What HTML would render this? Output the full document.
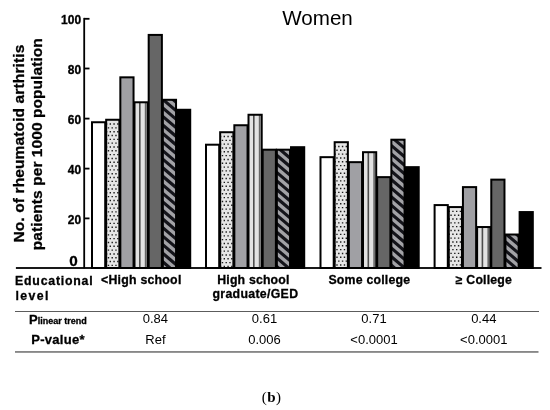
<!DOCTYPE html>
<html><head><meta charset="utf-8"><title>Women</title>
<style>html,body{margin:0;padding:0;background:#fff}body{width:550px;height:410px;position:relative;overflow:hidden}</style>
</head><body>
<svg width="550" height="410" viewBox="0 0 550 410" style="position:absolute;left:0;top:0">
<rect x="92.00" y="122.24" width="13.20" height="145.76" fill="#fff"/>
<rect x="92.00" y="122.24" width="13.20" height="145.76" fill="none" stroke="#000" stroke-width="2.0"/>
<rect x="106.17" y="119.75" width="13.20" height="148.25" fill="#e6e6e6"/>
<clipPath id="c1"><rect x="106.17" y="119.75" width="13.20" height="148.25"/></clipPath>
<path clip-path="url(#c1)" fill="#1c1c1c" d="M105.87 123.35h1.4v1.4h-1.4zM109.62 123.35h1.4v1.4h-1.4zM113.37 123.35h1.4v1.4h-1.4zM117.12 123.35h1.4v1.4h-1.4zM107.77 127.17h1.4v1.4h-1.4zM111.52 127.17h1.4v1.4h-1.4zM115.27 127.17h1.4v1.4h-1.4zM105.87 130.99h1.4v1.4h-1.4zM109.62 130.99h1.4v1.4h-1.4zM113.37 130.99h1.4v1.4h-1.4zM117.12 130.99h1.4v1.4h-1.4zM107.77 134.81h1.4v1.4h-1.4zM111.52 134.81h1.4v1.4h-1.4zM115.27 134.81h1.4v1.4h-1.4zM105.87 138.63h1.4v1.4h-1.4zM109.62 138.63h1.4v1.4h-1.4zM113.37 138.63h1.4v1.4h-1.4zM117.12 138.63h1.4v1.4h-1.4zM107.77 142.45h1.4v1.4h-1.4zM111.52 142.45h1.4v1.4h-1.4zM115.27 142.45h1.4v1.4h-1.4zM105.87 146.27h1.4v1.4h-1.4zM109.62 146.27h1.4v1.4h-1.4zM113.37 146.27h1.4v1.4h-1.4zM117.12 146.27h1.4v1.4h-1.4zM107.77 150.09h1.4v1.4h-1.4zM111.52 150.09h1.4v1.4h-1.4zM115.27 150.09h1.4v1.4h-1.4zM105.87 153.91h1.4v1.4h-1.4zM109.62 153.91h1.4v1.4h-1.4zM113.37 153.91h1.4v1.4h-1.4zM117.12 153.91h1.4v1.4h-1.4zM107.77 157.73h1.4v1.4h-1.4zM111.52 157.73h1.4v1.4h-1.4zM115.27 157.73h1.4v1.4h-1.4zM105.87 161.55h1.4v1.4h-1.4zM109.62 161.55h1.4v1.4h-1.4zM113.37 161.55h1.4v1.4h-1.4zM117.12 161.55h1.4v1.4h-1.4zM107.77 165.37h1.4v1.4h-1.4zM111.52 165.37h1.4v1.4h-1.4zM115.27 165.37h1.4v1.4h-1.4zM105.87 169.19h1.4v1.4h-1.4zM109.62 169.19h1.4v1.4h-1.4zM113.37 169.19h1.4v1.4h-1.4zM117.12 169.19h1.4v1.4h-1.4zM107.77 173.01h1.4v1.4h-1.4zM111.52 173.01h1.4v1.4h-1.4zM115.27 173.01h1.4v1.4h-1.4zM105.87 176.83h1.4v1.4h-1.4zM109.62 176.83h1.4v1.4h-1.4zM113.37 176.83h1.4v1.4h-1.4zM117.12 176.83h1.4v1.4h-1.4zM107.77 180.65h1.4v1.4h-1.4zM111.52 180.65h1.4v1.4h-1.4zM115.27 180.65h1.4v1.4h-1.4zM105.87 184.47h1.4v1.4h-1.4zM109.62 184.47h1.4v1.4h-1.4zM113.37 184.47h1.4v1.4h-1.4zM117.12 184.47h1.4v1.4h-1.4zM107.77 188.29h1.4v1.4h-1.4zM111.52 188.29h1.4v1.4h-1.4zM115.27 188.29h1.4v1.4h-1.4zM105.87 192.11h1.4v1.4h-1.4zM109.62 192.11h1.4v1.4h-1.4zM113.37 192.11h1.4v1.4h-1.4zM117.12 192.11h1.4v1.4h-1.4zM107.77 195.93h1.4v1.4h-1.4zM111.52 195.93h1.4v1.4h-1.4zM115.27 195.93h1.4v1.4h-1.4zM105.87 199.75h1.4v1.4h-1.4zM109.62 199.75h1.4v1.4h-1.4zM113.37 199.75h1.4v1.4h-1.4zM117.12 199.75h1.4v1.4h-1.4zM107.77 203.57h1.4v1.4h-1.4zM111.52 203.57h1.4v1.4h-1.4zM115.27 203.57h1.4v1.4h-1.4zM105.87 207.39h1.4v1.4h-1.4zM109.62 207.39h1.4v1.4h-1.4zM113.37 207.39h1.4v1.4h-1.4zM117.12 207.39h1.4v1.4h-1.4zM107.77 211.21h1.4v1.4h-1.4zM111.52 211.21h1.4v1.4h-1.4zM115.27 211.21h1.4v1.4h-1.4zM105.87 215.03h1.4v1.4h-1.4zM109.62 215.03h1.4v1.4h-1.4zM113.37 215.03h1.4v1.4h-1.4zM117.12 215.03h1.4v1.4h-1.4zM107.77 218.85h1.4v1.4h-1.4zM111.52 218.85h1.4v1.4h-1.4zM115.27 218.85h1.4v1.4h-1.4zM105.87 222.67h1.4v1.4h-1.4zM109.62 222.67h1.4v1.4h-1.4zM113.37 222.67h1.4v1.4h-1.4zM117.12 222.67h1.4v1.4h-1.4zM107.77 226.49h1.4v1.4h-1.4zM111.52 226.49h1.4v1.4h-1.4zM115.27 226.49h1.4v1.4h-1.4zM105.87 230.31h1.4v1.4h-1.4zM109.62 230.31h1.4v1.4h-1.4zM113.37 230.31h1.4v1.4h-1.4zM117.12 230.31h1.4v1.4h-1.4zM107.77 234.13h1.4v1.4h-1.4zM111.52 234.13h1.4v1.4h-1.4zM115.27 234.13h1.4v1.4h-1.4zM105.87 237.95h1.4v1.4h-1.4zM109.62 237.95h1.4v1.4h-1.4zM113.37 237.95h1.4v1.4h-1.4zM117.12 237.95h1.4v1.4h-1.4zM107.77 241.77h1.4v1.4h-1.4zM111.52 241.77h1.4v1.4h-1.4zM115.27 241.77h1.4v1.4h-1.4zM105.87 245.59h1.4v1.4h-1.4zM109.62 245.59h1.4v1.4h-1.4zM113.37 245.59h1.4v1.4h-1.4zM117.12 245.59h1.4v1.4h-1.4zM107.77 249.41h1.4v1.4h-1.4zM111.52 249.41h1.4v1.4h-1.4zM115.27 249.41h1.4v1.4h-1.4zM105.87 253.23h1.4v1.4h-1.4zM109.62 253.23h1.4v1.4h-1.4zM113.37 253.23h1.4v1.4h-1.4zM117.12 253.23h1.4v1.4h-1.4zM107.77 257.05h1.4v1.4h-1.4zM111.52 257.05h1.4v1.4h-1.4zM115.27 257.05h1.4v1.4h-1.4zM105.87 260.87h1.4v1.4h-1.4zM109.62 260.87h1.4v1.4h-1.4zM113.37 260.87h1.4v1.4h-1.4zM117.12 260.87h1.4v1.4h-1.4zM107.77 264.69h1.4v1.4h-1.4zM111.52 264.69h1.4v1.4h-1.4zM115.27 264.69h1.4v1.4h-1.4z"/>
<rect x="106.17" y="119.75" width="13.20" height="148.25" fill="none" stroke="#000" stroke-width="2.0"/>
<rect x="120.34" y="77.33" width="13.20" height="190.67" fill="#a0a0a4"/>
<rect x="120.34" y="77.33" width="13.20" height="190.67" fill="none" stroke="#000" stroke-width="2.0"/>
<rect x="134.51" y="102.28" width="13.20" height="165.72" fill="#e2e2e2"/>
<rect  x="139.01" y="102.28" width="1.6" height="165.72" fill="#4c4c4c"/>
<rect  x="144.81" y="102.28" width="1.6" height="165.72" fill="#666"/>
<rect x="134.51" y="102.28" width="13.20" height="165.72" fill="none" stroke="#000" stroke-width="2.0"/>
<rect x="148.68" y="34.92" width="13.20" height="233.08" fill="#666"/>
<rect x="148.68" y="34.92" width="13.20" height="233.08" fill="none" stroke="#000" stroke-width="2.0"/>
<rect x="162.85" y="99.79" width="13.20" height="168.21" fill="#a2a2a6"/>
<clipPath id="c2"><rect x="162.85" y="99.79" width="13.20" height="168.21"/></clipPath>
<path clip-path="url(#c2)" fill="#14141a" d="M158.85 76.89L183.85 98.14v4.1L158.85 80.99zM158.85 85.44L183.85 106.69v4.1L158.85 89.54zM158.85 93.99L183.85 115.24v4.1L158.85 98.09zM158.85 102.54L183.85 123.79v4.1L158.85 106.64zM158.85 111.09L183.85 132.34v4.1L158.85 115.19zM158.85 119.64L183.85 140.89v4.1L158.85 123.74zM158.85 128.19L183.85 149.44v4.1L158.85 132.29zM158.85 136.74L183.85 157.99v4.1L158.85 140.84zM158.85 145.29L183.85 166.54v4.1L158.85 149.39zM158.85 153.84L183.85 175.09v4.1L158.85 157.94zM158.85 162.39L183.85 183.64v4.1L158.85 166.49zM158.85 170.94L183.85 192.19v4.1L158.85 175.04zM158.85 179.49L183.85 200.74v4.1L158.85 183.59zM158.85 188.04L183.85 209.29v4.1L158.85 192.14zM158.85 196.59L183.85 217.84v4.1L158.85 200.69zM158.85 205.14L183.85 226.39v4.1L158.85 209.24zM158.85 213.69L183.85 234.94v4.1L158.85 217.79zM158.85 222.24L183.85 243.49v4.1L158.85 226.34zM158.85 230.79L183.85 252.04v4.1L158.85 234.89zM158.85 239.34L183.85 260.59v4.1L158.85 243.44zM158.85 247.89L183.85 269.14v4.1L158.85 251.99zM158.85 256.44L183.85 277.69v4.1L158.85 260.54zM158.85 264.99L183.85 286.24v4.1L158.85 269.09z"/>
<rect x="162.85" y="99.79" width="13.20" height="168.21" fill="none" stroke="#000" stroke-width="2.0"/>
<rect x="177.02" y="109.77" width="13.20" height="158.23" fill="#000"/>
<rect x="177.02" y="109.77" width="13.20" height="158.23" fill="none" stroke="#000" stroke-width="2.0"/>
<rect x="206.00" y="144.70" width="13.20" height="123.30" fill="#fff"/>
<rect x="206.00" y="144.70" width="13.20" height="123.30" fill="none" stroke="#000" stroke-width="2.0"/>
<rect x="220.17" y="132.22" width="13.20" height="135.78" fill="#e6e6e6"/>
<clipPath id="c3"><rect x="220.17" y="132.22" width="13.20" height="135.78"/></clipPath>
<path clip-path="url(#c3)" fill="#1c1c1c" d="M219.87 135.83h1.4v1.4h-1.4zM223.62 135.83h1.4v1.4h-1.4zM227.37 135.83h1.4v1.4h-1.4zM231.12 135.83h1.4v1.4h-1.4zM221.77 139.65h1.4v1.4h-1.4zM225.52 139.65h1.4v1.4h-1.4zM229.27 139.65h1.4v1.4h-1.4zM219.87 143.47h1.4v1.4h-1.4zM223.62 143.47h1.4v1.4h-1.4zM227.37 143.47h1.4v1.4h-1.4zM231.12 143.47h1.4v1.4h-1.4zM221.77 147.29h1.4v1.4h-1.4zM225.52 147.29h1.4v1.4h-1.4zM229.27 147.29h1.4v1.4h-1.4zM219.87 151.11h1.4v1.4h-1.4zM223.62 151.11h1.4v1.4h-1.4zM227.37 151.11h1.4v1.4h-1.4zM231.12 151.11h1.4v1.4h-1.4zM221.77 154.93h1.4v1.4h-1.4zM225.52 154.93h1.4v1.4h-1.4zM229.27 154.93h1.4v1.4h-1.4zM219.87 158.75h1.4v1.4h-1.4zM223.62 158.75h1.4v1.4h-1.4zM227.37 158.75h1.4v1.4h-1.4zM231.12 158.75h1.4v1.4h-1.4zM221.77 162.57h1.4v1.4h-1.4zM225.52 162.57h1.4v1.4h-1.4zM229.27 162.57h1.4v1.4h-1.4zM219.87 166.39h1.4v1.4h-1.4zM223.62 166.39h1.4v1.4h-1.4zM227.37 166.39h1.4v1.4h-1.4zM231.12 166.39h1.4v1.4h-1.4zM221.77 170.21h1.4v1.4h-1.4zM225.52 170.21h1.4v1.4h-1.4zM229.27 170.21h1.4v1.4h-1.4zM219.87 174.03h1.4v1.4h-1.4zM223.62 174.03h1.4v1.4h-1.4zM227.37 174.03h1.4v1.4h-1.4zM231.12 174.03h1.4v1.4h-1.4zM221.77 177.85h1.4v1.4h-1.4zM225.52 177.85h1.4v1.4h-1.4zM229.27 177.85h1.4v1.4h-1.4zM219.87 181.67h1.4v1.4h-1.4zM223.62 181.67h1.4v1.4h-1.4zM227.37 181.67h1.4v1.4h-1.4zM231.12 181.67h1.4v1.4h-1.4zM221.77 185.49h1.4v1.4h-1.4zM225.52 185.49h1.4v1.4h-1.4zM229.27 185.49h1.4v1.4h-1.4zM219.87 189.31h1.4v1.4h-1.4zM223.62 189.31h1.4v1.4h-1.4zM227.37 189.31h1.4v1.4h-1.4zM231.12 189.31h1.4v1.4h-1.4zM221.77 193.12h1.4v1.4h-1.4zM225.52 193.12h1.4v1.4h-1.4zM229.27 193.12h1.4v1.4h-1.4zM219.87 196.95h1.4v1.4h-1.4zM223.62 196.95h1.4v1.4h-1.4zM227.37 196.95h1.4v1.4h-1.4zM231.12 196.95h1.4v1.4h-1.4zM221.77 200.77h1.4v1.4h-1.4zM225.52 200.77h1.4v1.4h-1.4zM229.27 200.77h1.4v1.4h-1.4zM219.87 204.59h1.4v1.4h-1.4zM223.62 204.59h1.4v1.4h-1.4zM227.37 204.59h1.4v1.4h-1.4zM231.12 204.59h1.4v1.4h-1.4zM221.77 208.41h1.4v1.4h-1.4zM225.52 208.41h1.4v1.4h-1.4zM229.27 208.41h1.4v1.4h-1.4zM219.87 212.23h1.4v1.4h-1.4zM223.62 212.23h1.4v1.4h-1.4zM227.37 212.23h1.4v1.4h-1.4zM231.12 212.23h1.4v1.4h-1.4zM221.77 216.05h1.4v1.4h-1.4zM225.52 216.05h1.4v1.4h-1.4zM229.27 216.05h1.4v1.4h-1.4zM219.87 219.87h1.4v1.4h-1.4zM223.62 219.87h1.4v1.4h-1.4zM227.37 219.87h1.4v1.4h-1.4zM231.12 219.87h1.4v1.4h-1.4zM221.77 223.69h1.4v1.4h-1.4zM225.52 223.69h1.4v1.4h-1.4zM229.27 223.69h1.4v1.4h-1.4zM219.87 227.50h1.4v1.4h-1.4zM223.62 227.50h1.4v1.4h-1.4zM227.37 227.50h1.4v1.4h-1.4zM231.12 227.50h1.4v1.4h-1.4zM221.77 231.33h1.4v1.4h-1.4zM225.52 231.33h1.4v1.4h-1.4zM229.27 231.33h1.4v1.4h-1.4zM219.87 235.15h1.4v1.4h-1.4zM223.62 235.15h1.4v1.4h-1.4zM227.37 235.15h1.4v1.4h-1.4zM231.12 235.15h1.4v1.4h-1.4zM221.77 238.97h1.4v1.4h-1.4zM225.52 238.97h1.4v1.4h-1.4zM229.27 238.97h1.4v1.4h-1.4zM219.87 242.79h1.4v1.4h-1.4zM223.62 242.79h1.4v1.4h-1.4zM227.37 242.79h1.4v1.4h-1.4zM231.12 242.79h1.4v1.4h-1.4zM221.77 246.61h1.4v1.4h-1.4zM225.52 246.61h1.4v1.4h-1.4zM229.27 246.61h1.4v1.4h-1.4zM219.87 250.43h1.4v1.4h-1.4zM223.62 250.43h1.4v1.4h-1.4zM227.37 250.43h1.4v1.4h-1.4zM231.12 250.43h1.4v1.4h-1.4zM221.77 254.25h1.4v1.4h-1.4zM225.52 254.25h1.4v1.4h-1.4zM229.27 254.25h1.4v1.4h-1.4zM219.87 258.06h1.4v1.4h-1.4zM223.62 258.06h1.4v1.4h-1.4zM227.37 258.06h1.4v1.4h-1.4zM231.12 258.06h1.4v1.4h-1.4zM221.77 261.88h1.4v1.4h-1.4zM225.52 261.88h1.4v1.4h-1.4zM229.27 261.88h1.4v1.4h-1.4zM219.87 265.70h1.4v1.4h-1.4zM223.62 265.70h1.4v1.4h-1.4zM227.37 265.70h1.4v1.4h-1.4zM231.12 265.70h1.4v1.4h-1.4z"/>
<rect x="220.17" y="132.22" width="13.20" height="135.78" fill="none" stroke="#000" stroke-width="2.0"/>
<rect x="234.34" y="125.24" width="13.20" height="142.76" fill="#a0a0a4"/>
<rect x="234.34" y="125.24" width="13.20" height="142.76" fill="none" stroke="#000" stroke-width="2.0"/>
<rect x="248.51" y="114.76" width="13.20" height="153.24" fill="#e2e2e2"/>
<rect  x="253.01" y="114.76" width="1.6" height="153.24" fill="#4c4c4c"/>
<rect  x="258.81" y="114.76" width="1.6" height="153.24" fill="#666"/>
<rect x="248.51" y="114.76" width="13.20" height="153.24" fill="none" stroke="#000" stroke-width="2.0"/>
<rect x="262.68" y="149.69" width="13.20" height="118.31" fill="#666"/>
<rect x="262.68" y="149.69" width="13.20" height="118.31" fill="none" stroke="#000" stroke-width="2.0"/>
<rect x="276.85" y="149.69" width="13.20" height="118.31" fill="#a2a2a6"/>
<clipPath id="c4"><rect x="276.85" y="149.69" width="13.20" height="118.31"/></clipPath>
<path clip-path="url(#c4)" fill="#14141a" d="M272.85 124.29L297.85 145.54v4.1L272.85 128.39zM272.85 132.84L297.85 154.09v4.1L272.85 136.94zM272.85 141.39L297.85 162.64v4.1L272.85 145.49zM272.85 149.94L297.85 171.19v4.1L272.85 154.04zM272.85 158.49L297.85 179.74v4.1L272.85 162.59zM272.85 167.04L297.85 188.29v4.1L272.85 171.14zM272.85 175.59L297.85 196.84v4.1L272.85 179.69zM272.85 184.14L297.85 205.39v4.1L272.85 188.24zM272.85 192.69L297.85 213.94v4.1L272.85 196.79zM272.85 201.24L297.85 222.49v4.1L272.85 205.34zM272.85 209.79L297.85 231.04v4.1L272.85 213.89zM272.85 218.34L297.85 239.59v4.1L272.85 222.44zM272.85 226.89L297.85 248.14v4.1L272.85 230.99zM272.85 235.44L297.85 256.69v4.1L272.85 239.54zM272.85 243.99L297.85 265.24v4.1L272.85 248.09zM272.85 252.54L297.85 273.79v4.1L272.85 256.64zM272.85 261.09L297.85 282.34v4.1L272.85 265.19z"/>
<rect x="276.85" y="149.69" width="13.20" height="118.31" fill="none" stroke="#000" stroke-width="2.0"/>
<rect x="291.02" y="147.19" width="13.20" height="120.81" fill="#000"/>
<rect x="291.02" y="147.19" width="13.20" height="120.81" fill="none" stroke="#000" stroke-width="2.0"/>
<rect x="320.50" y="157.17" width="13.20" height="110.83" fill="#fff"/>
<rect x="320.50" y="157.17" width="13.20" height="110.83" fill="none" stroke="#000" stroke-width="2.0"/>
<rect x="334.67" y="142.20" width="13.20" height="125.80" fill="#e6e6e6"/>
<clipPath id="c5"><rect x="334.67" y="142.20" width="13.20" height="125.80"/></clipPath>
<path clip-path="url(#c5)" fill="#1c1c1c" d="M334.37 145.81h1.4v1.4h-1.4zM338.12 145.81h1.4v1.4h-1.4zM341.87 145.81h1.4v1.4h-1.4zM345.62 145.81h1.4v1.4h-1.4zM336.27 149.62h1.4v1.4h-1.4zM340.02 149.62h1.4v1.4h-1.4zM343.77 149.62h1.4v1.4h-1.4zM334.37 153.44h1.4v1.4h-1.4zM338.12 153.44h1.4v1.4h-1.4zM341.87 153.44h1.4v1.4h-1.4zM345.62 153.44h1.4v1.4h-1.4zM336.27 157.27h1.4v1.4h-1.4zM340.02 157.27h1.4v1.4h-1.4zM343.77 157.27h1.4v1.4h-1.4zM334.37 161.09h1.4v1.4h-1.4zM338.12 161.09h1.4v1.4h-1.4zM341.87 161.09h1.4v1.4h-1.4zM345.62 161.09h1.4v1.4h-1.4zM336.27 164.91h1.4v1.4h-1.4zM340.02 164.91h1.4v1.4h-1.4zM343.77 164.91h1.4v1.4h-1.4zM334.37 168.72h1.4v1.4h-1.4zM338.12 168.72h1.4v1.4h-1.4zM341.87 168.72h1.4v1.4h-1.4zM345.62 168.72h1.4v1.4h-1.4zM336.27 172.55h1.4v1.4h-1.4zM340.02 172.55h1.4v1.4h-1.4zM343.77 172.55h1.4v1.4h-1.4zM334.37 176.37h1.4v1.4h-1.4zM338.12 176.37h1.4v1.4h-1.4zM341.87 176.37h1.4v1.4h-1.4zM345.62 176.37h1.4v1.4h-1.4zM336.27 180.19h1.4v1.4h-1.4zM340.02 180.19h1.4v1.4h-1.4zM343.77 180.19h1.4v1.4h-1.4zM334.37 184.00h1.4v1.4h-1.4zM338.12 184.00h1.4v1.4h-1.4zM341.87 184.00h1.4v1.4h-1.4zM345.62 184.00h1.4v1.4h-1.4zM336.27 187.82h1.4v1.4h-1.4zM340.02 187.82h1.4v1.4h-1.4zM343.77 187.82h1.4v1.4h-1.4zM334.37 191.65h1.4v1.4h-1.4zM338.12 191.65h1.4v1.4h-1.4zM341.87 191.65h1.4v1.4h-1.4zM345.62 191.65h1.4v1.4h-1.4zM336.27 195.47h1.4v1.4h-1.4zM340.02 195.47h1.4v1.4h-1.4zM343.77 195.47h1.4v1.4h-1.4zM334.37 199.28h1.4v1.4h-1.4zM338.12 199.28h1.4v1.4h-1.4zM341.87 199.28h1.4v1.4h-1.4zM345.62 199.28h1.4v1.4h-1.4zM336.27 203.11h1.4v1.4h-1.4zM340.02 203.11h1.4v1.4h-1.4zM343.77 203.11h1.4v1.4h-1.4zM334.37 206.93h1.4v1.4h-1.4zM338.12 206.93h1.4v1.4h-1.4zM341.87 206.93h1.4v1.4h-1.4zM345.62 206.93h1.4v1.4h-1.4zM336.27 210.75h1.4v1.4h-1.4zM340.02 210.75h1.4v1.4h-1.4zM343.77 210.75h1.4v1.4h-1.4zM334.37 214.56h1.4v1.4h-1.4zM338.12 214.56h1.4v1.4h-1.4zM341.87 214.56h1.4v1.4h-1.4zM345.62 214.56h1.4v1.4h-1.4zM336.27 218.38h1.4v1.4h-1.4zM340.02 218.38h1.4v1.4h-1.4zM343.77 218.38h1.4v1.4h-1.4zM334.37 222.20h1.4v1.4h-1.4zM338.12 222.20h1.4v1.4h-1.4zM341.87 222.20h1.4v1.4h-1.4zM345.62 222.20h1.4v1.4h-1.4zM336.27 226.03h1.4v1.4h-1.4zM340.02 226.03h1.4v1.4h-1.4zM343.77 226.03h1.4v1.4h-1.4zM334.37 229.84h1.4v1.4h-1.4zM338.12 229.84h1.4v1.4h-1.4zM341.87 229.84h1.4v1.4h-1.4zM345.62 229.84h1.4v1.4h-1.4zM336.27 233.67h1.4v1.4h-1.4zM340.02 233.67h1.4v1.4h-1.4zM343.77 233.67h1.4v1.4h-1.4zM334.37 237.49h1.4v1.4h-1.4zM338.12 237.49h1.4v1.4h-1.4zM341.87 237.49h1.4v1.4h-1.4zM345.62 237.49h1.4v1.4h-1.4zM336.27 241.31h1.4v1.4h-1.4zM340.02 241.31h1.4v1.4h-1.4zM343.77 241.31h1.4v1.4h-1.4zM334.37 245.12h1.4v1.4h-1.4zM338.12 245.12h1.4v1.4h-1.4zM341.87 245.12h1.4v1.4h-1.4zM345.62 245.12h1.4v1.4h-1.4zM336.27 248.94h1.4v1.4h-1.4zM340.02 248.94h1.4v1.4h-1.4zM343.77 248.94h1.4v1.4h-1.4zM334.37 252.76h1.4v1.4h-1.4zM338.12 252.76h1.4v1.4h-1.4zM341.87 252.76h1.4v1.4h-1.4zM345.62 252.76h1.4v1.4h-1.4zM336.27 256.58h1.4v1.4h-1.4zM340.02 256.58h1.4v1.4h-1.4zM343.77 256.58h1.4v1.4h-1.4zM334.37 260.41h1.4v1.4h-1.4zM338.12 260.41h1.4v1.4h-1.4zM341.87 260.41h1.4v1.4h-1.4zM345.62 260.41h1.4v1.4h-1.4zM336.27 264.23h1.4v1.4h-1.4zM340.02 264.23h1.4v1.4h-1.4zM343.77 264.23h1.4v1.4h-1.4z"/>
<rect x="334.67" y="142.20" width="13.20" height="125.80" fill="none" stroke="#000" stroke-width="2.0"/>
<rect x="348.84" y="162.16" width="13.20" height="105.84" fill="#a0a0a4"/>
<rect x="348.84" y="162.16" width="13.20" height="105.84" fill="none" stroke="#000" stroke-width="2.0"/>
<rect x="363.01" y="152.19" width="13.20" height="115.81" fill="#e2e2e2"/>
<rect  x="367.51" y="152.19" width="1.6" height="115.81" fill="#4c4c4c"/>
<rect  x="373.31" y="152.19" width="1.6" height="115.81" fill="#666"/>
<rect x="363.01" y="152.19" width="13.20" height="115.81" fill="none" stroke="#000" stroke-width="2.0"/>
<rect x="377.18" y="177.13" width="13.20" height="90.87" fill="#666"/>
<rect x="377.18" y="177.13" width="13.20" height="90.87" fill="none" stroke="#000" stroke-width="2.0"/>
<rect x="391.35" y="139.71" width="13.20" height="128.29" fill="#a2a2a6"/>
<clipPath id="c6"><rect x="391.35" y="139.71" width="13.20" height="128.29"/></clipPath>
<path clip-path="url(#c6)" fill="#14141a" d="M387.35 114.41L412.35 135.66v4.1L387.35 118.51zM387.35 122.96L412.35 144.21v4.1L387.35 127.06zM387.35 131.51L412.35 152.76v4.1L387.35 135.61zM387.35 140.06L412.35 161.31v4.1L387.35 144.16zM387.35 148.61L412.35 169.86v4.1L387.35 152.71zM387.35 157.16L412.35 178.41v4.1L387.35 161.26zM387.35 165.71L412.35 186.96v4.1L387.35 169.81zM387.35 174.26L412.35 195.51v4.1L387.35 178.36zM387.35 182.81L412.35 204.06v4.1L387.35 186.91zM387.35 191.36L412.35 212.61v4.1L387.35 195.46zM387.35 199.91L412.35 221.16v4.1L387.35 204.01zM387.35 208.46L412.35 229.71v4.1L387.35 212.56zM387.35 217.01L412.35 238.26v4.1L387.35 221.11zM387.35 225.56L412.35 246.81v4.1L387.35 229.66zM387.35 234.11L412.35 255.36v4.1L387.35 238.21zM387.35 242.66L412.35 263.91v4.1L387.35 246.76zM387.35 251.21L412.35 272.46v4.1L387.35 255.31zM387.35 259.76L412.35 281.01v4.1L387.35 263.86z"/>
<rect x="391.35" y="139.71" width="13.20" height="128.29" fill="none" stroke="#000" stroke-width="2.0"/>
<rect x="405.52" y="167.15" width="13.20" height="100.85" fill="#000"/>
<rect x="405.52" y="167.15" width="13.20" height="100.85" fill="none" stroke="#000" stroke-width="2.0"/>
<rect x="434.60" y="205.08" width="13.20" height="62.92" fill="#fff"/>
<rect x="434.60" y="205.08" width="13.20" height="62.92" fill="none" stroke="#000" stroke-width="2.0"/>
<rect x="448.77" y="207.07" width="13.20" height="60.93" fill="#e6e6e6"/>
<clipPath id="c7"><rect x="448.77" y="207.07" width="13.20" height="60.93"/></clipPath>
<path clip-path="url(#c7)" fill="#1c1c1c" d="M448.47 210.68h1.4v1.4h-1.4zM452.22 210.68h1.4v1.4h-1.4zM455.97 210.68h1.4v1.4h-1.4zM459.72 210.68h1.4v1.4h-1.4zM450.37 214.50h1.4v1.4h-1.4zM454.12 214.50h1.4v1.4h-1.4zM457.87 214.50h1.4v1.4h-1.4zM448.47 218.31h1.4v1.4h-1.4zM452.22 218.31h1.4v1.4h-1.4zM455.97 218.31h1.4v1.4h-1.4zM459.72 218.31h1.4v1.4h-1.4zM450.37 222.14h1.4v1.4h-1.4zM454.12 222.14h1.4v1.4h-1.4zM457.87 222.14h1.4v1.4h-1.4zM448.47 225.96h1.4v1.4h-1.4zM452.22 225.96h1.4v1.4h-1.4zM455.97 225.96h1.4v1.4h-1.4zM459.72 225.96h1.4v1.4h-1.4zM450.37 229.78h1.4v1.4h-1.4zM454.12 229.78h1.4v1.4h-1.4zM457.87 229.78h1.4v1.4h-1.4zM448.47 233.59h1.4v1.4h-1.4zM452.22 233.59h1.4v1.4h-1.4zM455.97 233.59h1.4v1.4h-1.4zM459.72 233.59h1.4v1.4h-1.4zM450.37 237.42h1.4v1.4h-1.4zM454.12 237.42h1.4v1.4h-1.4zM457.87 237.42h1.4v1.4h-1.4zM448.47 241.24h1.4v1.4h-1.4zM452.22 241.24h1.4v1.4h-1.4zM455.97 241.24h1.4v1.4h-1.4zM459.72 241.24h1.4v1.4h-1.4zM450.37 245.06h1.4v1.4h-1.4zM454.12 245.06h1.4v1.4h-1.4zM457.87 245.06h1.4v1.4h-1.4zM448.47 248.88h1.4v1.4h-1.4zM452.22 248.88h1.4v1.4h-1.4zM455.97 248.88h1.4v1.4h-1.4zM459.72 248.88h1.4v1.4h-1.4zM450.37 252.69h1.4v1.4h-1.4zM454.12 252.69h1.4v1.4h-1.4zM457.87 252.69h1.4v1.4h-1.4zM448.47 256.51h1.4v1.4h-1.4zM452.22 256.51h1.4v1.4h-1.4zM455.97 256.51h1.4v1.4h-1.4zM459.72 256.51h1.4v1.4h-1.4zM450.37 260.33h1.4v1.4h-1.4zM454.12 260.33h1.4v1.4h-1.4zM457.87 260.33h1.4v1.4h-1.4zM448.47 264.16h1.4v1.4h-1.4zM452.22 264.16h1.4v1.4h-1.4zM455.97 264.16h1.4v1.4h-1.4zM459.72 264.16h1.4v1.4h-1.4z"/>
<rect x="448.77" y="207.07" width="13.20" height="60.93" fill="none" stroke="#000" stroke-width="2.0"/>
<rect x="462.94" y="187.11" width="13.20" height="80.89" fill="#a0a0a4"/>
<rect x="462.94" y="187.11" width="13.20" height="80.89" fill="none" stroke="#000" stroke-width="2.0"/>
<rect x="477.11" y="227.03" width="13.20" height="40.97" fill="#e2e2e2"/>
<rect  x="481.61" y="227.03" width="1.6" height="40.97" fill="#4c4c4c"/>
<rect  x="487.41" y="227.03" width="1.6" height="40.97" fill="#666"/>
<rect x="477.11" y="227.03" width="13.20" height="40.97" fill="none" stroke="#000" stroke-width="2.0"/>
<rect x="491.28" y="179.63" width="13.20" height="88.37" fill="#666"/>
<rect x="491.28" y="179.63" width="13.20" height="88.37" fill="none" stroke="#000" stroke-width="2.0"/>
<rect x="505.45" y="234.52" width="13.20" height="33.48" fill="#a2a2a6"/>
<clipPath id="c8"><rect x="505.45" y="234.52" width="13.20" height="33.48"/></clipPath>
<path clip-path="url(#c8)" fill="#14141a" d="M501.45 210.92L526.45 232.17v4.1L501.45 215.02zM501.45 219.47L526.45 240.72v4.1L501.45 223.57zM501.45 228.02L526.45 249.27v4.1L501.45 232.12zM501.45 236.57L526.45 257.82v4.1L501.45 240.67zM501.45 245.12L526.45 266.37v4.1L501.45 249.22zM501.45 253.67L526.45 274.92v4.1L501.45 257.77zM501.45 262.22L526.45 283.47v4.1L501.45 266.32z"/>
<rect x="505.45" y="234.52" width="13.20" height="33.48" fill="none" stroke="#000" stroke-width="2.0"/>
<rect x="519.62" y="212.06" width="13.20" height="55.94" fill="#000"/>
<rect x="519.62" y="212.06" width="13.20" height="55.94" fill="none" stroke="#000" stroke-width="2.0"/>
<rect x="83.3" y="17.9" width="1.8" height="250.5" fill="#000"/>
<rect x="84" y="17.90" width="5.5" height="1.8" fill="#000"/>
<rect x="84" y="67.60" width="5.5" height="1.8" fill="#000"/>
<rect x="84" y="117.70" width="5.5" height="1.8" fill="#000"/>
<rect x="84" y="167.70" width="5.5" height="1.8" fill="#000"/>
<rect x="84" y="217.50" width="5.5" height="1.8" fill="#000"/>
<rect x="15.9" y="267.1" width="525.6" height="1.8" fill="#000"/>
<rect x="15" y="311.1" width="524" height="0.9" fill="#4a4a4a"/>
<rect x="15" y="351.3" width="523.5" height="1.3" fill="#555"/>
<g font-family="'Liberation Sans', sans-serif" fill="#000">
<g font-weight="bold" font-size="12" text-anchor="end" stroke="#000" stroke-width="0.3">
<text x="81.1" y="24.0">100</text>
<text x="81.1" y="73.7">80</text>
<text x="81.1" y="123.8">60</text>
<text x="81.1" y="173.8">40</text>
<text x="81.1" y="223.6">20</text>
<text x="77.7" y="265.9" font-size="15.3">0</text>
</g>
<text x="317.5" y="25" font-size="20.6" text-anchor="middle">Women</text>
<g font-weight="bold" font-size="15.5" text-anchor="middle" stroke="#000" stroke-width="0.3">
<text transform="translate(23.8 143.6) rotate(-90)" textLength="198" lengthAdjust="spacing">No. of rheumatoid arthritis</text>
<text transform="translate(41.9 144.2) rotate(-90)" textLength="212" lengthAdjust="spacing">patients per 1000 population</text>
</g>
<g font-weight="bold" font-size="12.3" stroke="#000" stroke-width="0.3">
<text x="15.1" y="284.6" letter-spacing="0.78">Educational</text>
<text x="15.4" y="299.8" letter-spacing="1.4">level</text>
<text x="101" y="283.6" letter-spacing="0.25">&lt;High school</text>
<text x="217.3" y="283.6" letter-spacing="0.17">High school</text>
<text x="212.5" y="298.4" letter-spacing="0.32">graduate/GED</text>
<text x="328.4" y="283.5" letter-spacing="0.22">Some college</text>
<text x="455.8" y="283.5" letter-spacing="0.18">≥ College</text>
<text x="29.0" y="323.6" font-size="13">P<tspan font-size="9" dy="0.4">linear trend</tspan></text>
<text x="31.2" y="343.6" font-size="13" letter-spacing="0.3">P-value*</text>
</g>
<g font-size="13" text-anchor="middle">
<text x="155.4" y="323.3">0.84</text>
<text x="155.4" y="343.6">Ref</text>
<text x="264.5" y="323.3">0.61</text>
<text x="264.5" y="343.6">0.006</text>
<text x="374" y="323.3">0.71</text>
<text x="374" y="343.6">&lt;0.0001</text>
<text x="483.8" y="323.3">0.44</text>
<text x="483.8" y="343.6">&lt;0.0001</text>
</g>
</g>
<text x="271.6" y="401.9" font-family="'Liberation Serif', serif" font-size="15" text-anchor="middle" letter-spacing="0.45">(<tspan font-weight="bold">b</tspan>)</text>
</svg>
</body></html>
